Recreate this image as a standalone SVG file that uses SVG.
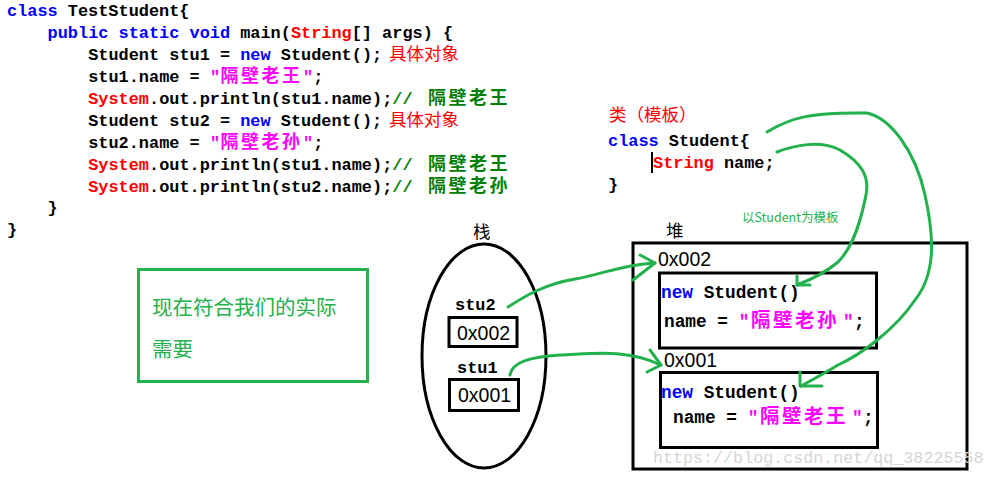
<svg xmlns="http://www.w3.org/2000/svg" width="996" height="482" viewBox="0 0 996 482">
<style>
text{white-space:pre}
.code{font-family:"Liberation Mono","DejaVu Sans Mono",monospace;font-weight:bold;font-size:16.9px;fill:#000}
.hc{font-family:"Liberation Mono","DejaVu Sans Mono",monospace;font-weight:bold;font-size:17.8px;fill:#000}
.kw{fill:#0000ff}
.rd{fill:#ff0000}
.str{fill:#ff00ff}
.cm{fill:#008000}
.cjk{font-family:"Noto Sans CJK SC",sans-serif}
.cjkc{font-family:"Noto Sans CJK SC",sans-serif;font-size:18px;letter-spacing:2.5px}
.lbl{font-family:"Noto Sans CJK SC",sans-serif;font-size:17.5px;fill:#ff0000}
.addr{font-family:"Liberation Sans",Arial,sans-serif;font-size:19.5px;fill:#000}
.box{fill:none;stroke:#000;stroke-width:3}
.g{fill:none;stroke:#22b14c;stroke-width:3;stroke-linecap:round;stroke-linejoin:round}
.gt{font-family:"Noto Sans CJK SC",sans-serif;fill:#22b14c}
</style>
<rect width="996" height="482" fill="#fff"/>

<g id="code-main" class="code">
<text x="7" y="16"><tspan class="kw">class</tspan> TestStudent{</text>
<text x="47.6" y="38"><tspan class="kw">public static void</tspan> main(<tspan class="rd">String</tspan>[] args) {</text>
<text x="88.2" y="60">Student stu1 = <tspan class="kw">new</tspan> Student();<tspan x="389" class="cjk" font-weight="normal" font-size="17.5" fill="#ff0000">具体对象</tspan></text>
<text x="88.2" y="82">stu1.name = <tspan class="str" x="210">"</tspan><tspan class="str cjkc" x="220.5">隔壁老王</tspan><tspan class="str" x="303">"</tspan><tspan x="313.3">;</tspan></text>
<text x="88.2" y="104"><tspan class="rd">System</tspan>.out.println(stu1.name);<tspan class="cm">//</tspan><tspan class="cm cjkc" x="428">隔壁老王</tspan></text>
<text x="88.2" y="126">Student stu2 = <tspan class="kw">new</tspan> Student();<tspan x="389" class="cjk" font-weight="normal" font-size="17.5" fill="#ff0000">具体对象</tspan></text>
<text x="88.2" y="148">stu2.name = <tspan class="str" x="210">"</tspan><tspan class="str cjkc" x="220.5">隔壁老孙</tspan><tspan class="str" x="303">"</tspan><tspan x="313.3">;</tspan></text>
<text x="88.2" y="170"><tspan class="rd">System</tspan>.out.println(stu1.name);<tspan class="cm">//</tspan><tspan class="cm cjkc" x="428">隔壁老王</tspan></text>
<text x="88.2" y="192"><tspan class="rd">System</tspan>.out.println(stu2.name);<tspan class="cm">//</tspan><tspan class="cm cjkc" x="428">隔壁老孙</tspan></text>
<text x="47.6" y="213">}</text>
<text x="7" y="235">}</text>
</g>

<g id="class-student">
<text class="lbl" x="609" y="121" font-size="17">类（模板）</text>
<text class="code" x="608" y="146"><tspan class="kw">class</tspan> Student{</text>
<text class="code" x="653" y="168"><tspan class="rd">String</tspan> name;</text>
<rect x="651" y="152" width="2" height="21" fill="#000"/>
<text class="code" x="608" y="190">}</text>
<text class="gt" x="742" y="222" font-size="12.5">以Student为模板</text>
</g>

<g id="note">
<rect x="138.5" y="269.5" width="229" height="112" fill="none" stroke="#22b14c" stroke-width="3"/>
<text class="gt" x="152" y="315" font-size="20.5">现在符合我们的实际</text>
<text class="gt" x="152" y="357" font-size="20.5">需要</text>
</g>

<g id="stack">
<text class="cjk" x="473" y="238" font-size="17.5" fill="#000">栈</text>
<ellipse cx="484" cy="356" rx="62" ry="112" class="box"/>
</g>

<g id="stu2">
<text class="code" x="455" y="310" font-size="16.7">stu2</text>
<rect x="449" y="317.5" width="68" height="29" class="box"/>
<text class="addr" x="457" y="340">0x002</text>
</g>

<g id="stu1">
<text class="code" x="457" y="373" font-size="16.7">stu1</text>
<rect x="449.5" y="379.5" width="69" height="31" class="box"/>
<text class="addr" x="458" y="402">0x001</text>
</g>

<g id="heap">
<text class="cjk" x="666" y="237" font-size="17.5" fill="#000">堆</text>
<rect x="633" y="243" width="334" height="226" class="box"/>
</g>

<g id="obj2">
<text class="addr" x="658" y="266">0x002</text>
<rect x="659.5" y="273" width="217" height="75" class="box"/>
<text class="hc" x="661" y="298"><tspan class="kw">new</tspan> Student()</text>
<text class="hc" x="664" y="327">name = <tspan class="str" x="738.8">"</tspan><tspan class="str cjk" x="751" font-size="19.5" letter-spacing="2.5">隔壁老孙</tspan><tspan class="str" x="843">"</tspan><tspan x="854">;</tspan></text>
</g>

<g id="obj1">
<text class="addr" x="664" y="367">0x001</text>
<rect x="660.5" y="372.5" width="217" height="75" class="box"/>
<text class="hc" x="661" y="398"><tspan class="kw">new</tspan> Student()</text>
<text class="hc" x="673" y="423">name = <tspan class="str" x="747.8">"</tspan><tspan class="str cjk" x="760" font-size="19.5" letter-spacing="2.5">隔壁老王</tspan><tspan class="str" x="852">"</tspan><tspan x="863">;</tspan></text>
</g>

<g id="connectors">
<path class="g" d="M508,307 C525,296 545,284 575,279 C600,275 620,265 655,263"/>
<path class="g" d="M640,255 L655,263 L633,280"/>
<path class="g" d="M510,375 C512,362 530,357 560,355 C590,354 625,348 661,365"/>
<path class="g" d="M650,350 L661,365 L647,372"/>
<path class="g" d="M767,132 C790,118 810,112 867,113 C890,118 915,150 925,195 C935,240 935,275 915,300 C895,330 860,355 838,365 C825,373 812,380 801,386"/>
<path class="g" d="M800,372 L800,386 L822,386"/>
<path class="g" d="M777,152 C795,145 820,140 840,150 C860,162 870,175 866,195 C862,215 855,245 838,262 C825,273 810,280 797,285"/>
<path class="g" d="M797,276 L797,285 L810,285"/>
</g>

<text x="653" y="463" font-family="Liberation Mono, monospace" font-size="16.7" fill="#d6d6d6">https://blog.csdn.net/qq_38225558</text>
</svg>
